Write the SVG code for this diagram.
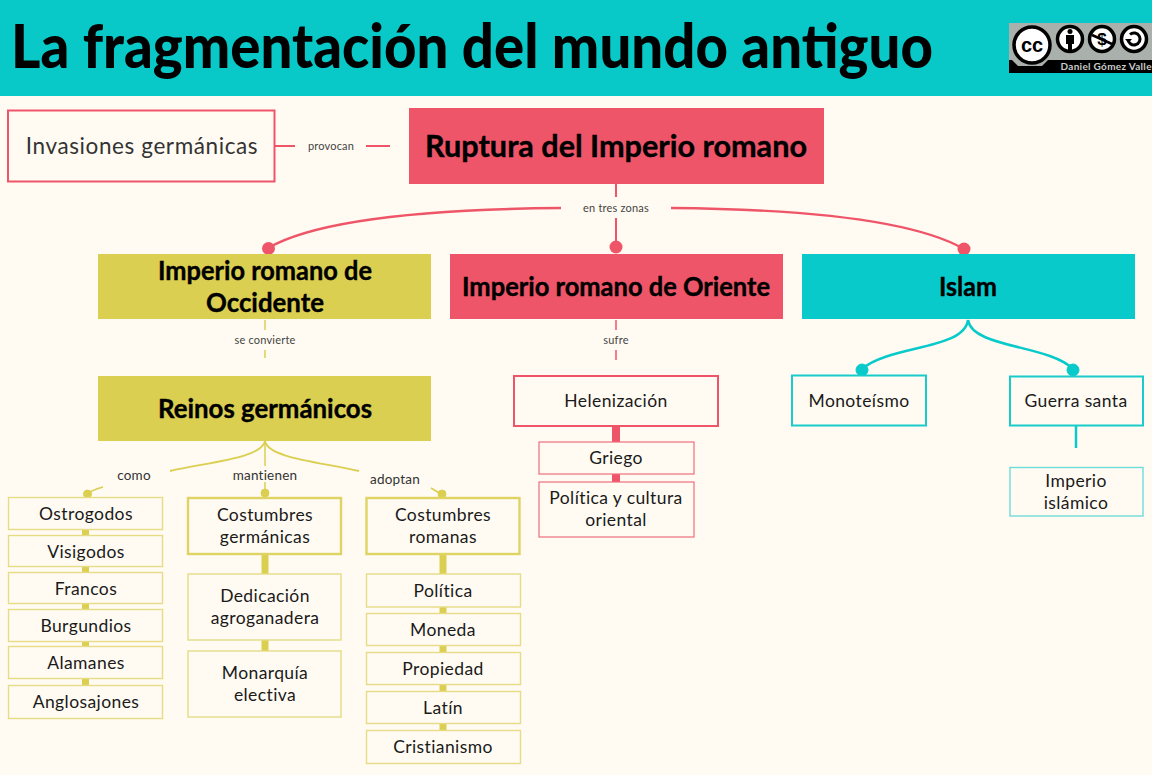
<svg xmlns="http://www.w3.org/2000/svg" width="1152" height="775" viewBox="0 0 1152 775">
<style>
text{font-family:"Lato","Noto Sans",sans-serif;text-anchor:middle;fill:#1a1a1a}
.h{font-weight:700;fill:#000;font-size:27px;stroke:#000;stroke-width:.4px}
.b{font-size:17.5px;letter-spacing:.4px}
.l{font-size:11px;fill:#444;letter-spacing:.2px}
.m{font-size:13.5px;fill:#333;letter-spacing:.2px}
.rf{fill:#ef5568}.yf{fill:#dbcf52}.cf{fill:#08caca}
.r2{fill:#fffbf2;stroke:#ef5568;stroke-width:2}
.y2{fill:#fffbf2;stroke:#dfd463;stroke-width:2.4}
.y1{fill:#fffbf2;stroke:#e6dc85;stroke-width:1.4}
.c2{fill:#fffbf2;stroke:#18cccc;stroke-width:2}
.c1{fill:#fffbf2;stroke:#6fdcdc;stroke-width:1.4}
.r1{fill:#fffbf2;stroke:#ef6d7e;stroke-width:1.2}
#connectors path{fill:none}
</style>
<rect width="1152" height="775" fill="#fffbf2"/>
<rect width="1152" height="96" fill="#08c8c8"/>
<text x="472" y="68" text-anchor="middle" textLength="922" lengthAdjust="spacingAndGlyphs" style="font-family:'Lato',sans-serif;font-weight:900;font-size:60px;fill:#000">La fragmentación del mundo antiguo</text>
<g id="logo">
<rect x="1009" y="23" width="143" height="50" fill="#aab0ab"/>
<rect x="1009" y="60" width="143" height="13" fill="#000"/>
<path d="M1012 60h36l-6 6h-24z" fill="#aab0ab"/>
<g fill="#fff" stroke="#000" stroke-width="3.5">
<circle cx="1032" cy="45" r="18"/><circle cx="1070" cy="39" r="12.5"/><circle cx="1102" cy="39" r="12.5"/><circle cx="1134" cy="39" r="12.5"/>
</g>
<text x="1032" y="52" style="font-family:'Liberation Sans',sans-serif;font-weight:700;font-size:20px;fill:#000">cc</text>
<circle cx="1070" cy="31.500" r="2.500" fill="#000"/>
<path d="M1066 35h8v9h-2v7h-4v-7h-2z" fill="#000"/>
<path d="M1092 35l20 9" stroke="#000" stroke-width="2.500"/>
<text x="1102" y="45" style="font-family:'Liberation Sans',sans-serif;font-weight:700;font-size:17px;fill:#000">$</text>
<path d="M1128 39a6 6 0 1 0 2-4.500" fill="none" stroke="#000" stroke-width="3"/>
<path d="M1125 39h7l-3.500 4z" fill="#000"/>
<text x="1106" y="70" textLength="91" style="font-family:'Lato',sans-serif;font-size:10px;fill:#c8cdc8;font-weight:700">Daniel Gómez Valle</text>
</g>
<g id="connectors">
<g stroke="#ef5568" fill="#ef5568">
<path d="M275 146H295M366 146H390" stroke-width="2"/>
<path d="M389 139L409 146L389 153z" stroke="none"/>
<path d="M616 184V197M616 218V246" stroke-width="2"/>
<path d="M561 208C440 209 320 218 268 248" stroke-width="2.400"/>
<path d="M671 208C790 209 910 218 964 249" stroke-width="2.400"/>
<circle cx="268.500" cy="248.500" r="6.500" stroke="none"/>
<circle cx="616" cy="247" r="6.500" stroke="none"/>
<circle cx="964" cy="249" r="6.500" stroke="none"/>
<path d="M616 320V330M616 350V360" stroke-width="1.500"/>
<path d="M608 356L616 375L624 356z" stroke="none"/>
<path d="M616 426V442" stroke-width="8"/>
<path d="M616 474V482" stroke-width="8"/>
</g>
<g stroke="#dbcf52" fill="#dbcf52">
<path d="M265 320V330M265 350V358" stroke-width="1.500"/>
<path d="M257 353L265 375L273 353z" stroke="none"/>
<path d="M265 441C262 458 210 462 170 471" stroke-width="1.800"/>
<path d="M265 441C268 458 320 462 359 471" stroke-width="1.800"/>
<path d="M265 441V466M265 482V490" stroke-width="1.500"/>
<path d="M103 487C96 489 90 491 87 494M431 488L441 494" stroke-width="1.800"/>
<circle cx="87.500" cy="494" r="4"/><circle cx="265" cy="493" r="4"/><circle cx="442" cy="494" r="4"/>
<path d="M85.500 530V536M85.500 567V572M85.500 604V609M85.500 641V646M85.500 679V685" stroke-width="7"/>
<path d="M265 554V574M265 640V651" stroke-width="7"/>
<path d="M443 554V574M443 607V613M443 646V652M443 685V691M443 724V730" stroke-width="7"/>
</g>
<g stroke="#08caca" fill="#08caca">
<path d="M968 320C964 350 890 345 862 369" stroke-width="2.500"/>
<path d="M968 320C972 348 1050 345 1073 369" stroke-width="2.500"/>
<circle cx="862" cy="370" r="6"/><circle cx="1073" cy="370" r="6"/>
<path d="M1076 426V448" stroke-width="2.500"/>
<path d="M1069 447L1076.500 466L1084 447z" stroke="none"/>
</g>
</g>
<g id="n-invasiones"><rect x="8" y="110.500" width="266.500" height="71" class="r2"/><text x="142" y="154" style="font-size:22.500px;letter-spacing:.6px;fill:#333">Invasiones germánicas</text></g>
<text x="331" y="150" class="l">provocan</text>
<g id="n-ruptura"><rect x="409" y="108" width="415" height="76" class="rf"/><text x="616" y="157" class="h" style="font-size:31px" textLength="382" lengthAdjust="spacingAndGlyphs">Ruptura del Imperio romano</text></g>
<text x="616" y="212" class="l">en tres zonas</text>
<g id="n-occidente"><rect x="98" y="254" width="333" height="65" class="yf"/><text x="265" y="280" class="h" textLength="214" lengthAdjust="spacingAndGlyphs">Imperio romano de</text><text x="265" y="312" class="h" textLength="118" lengthAdjust="spacingAndGlyphs">Occidente</text></g>
<g id="n-oriente"><rect x="450" y="254" width="333" height="65" class="rf"/><text x="616" y="296" class="h" textLength="308" lengthAdjust="spacingAndGlyphs">Imperio romano de Oriente</text></g>
<g id="n-islam"><rect x="802" y="254" width="333" height="65" class="cf"/><text x="968" y="296" class="h" textLength="58" lengthAdjust="spacingAndGlyphs">Islam</text></g>
<text x="265" y="344" class="l">se convierte</text>
<text x="616" y="344" class="l">sufre</text>
<g id="n-reinos"><rect x="98" y="376" width="333" height="65" class="yf"/><text x="265" y="418" class="h" textLength="214" lengthAdjust="spacingAndGlyphs">Reinos germánicos</text></g>
<g id="n-helenizacion"><rect x="514" y="376" width="204" height="50" class="r2"/><text x="616" y="407" class="b">Helenización</text></g>
<g id="n-griego"><rect x="539" y="442" width="155" height="32" class="r1"/><text x="616" y="464" class="b">Griego</text></g>
<g id="n-politica-oriental"><rect x="539" y="482" width="155" height="55" class="r1"/><text x="616" y="504" class="b">Política y cultura</text><text x="616" y="526" class="b">oriental</text></g>
<g id="n-monoteismo"><rect x="792" y="375.500" width="134" height="50" class="c2"/><text x="859" y="407" class="b">Monoteísmo</text></g>
<g id="n-guerra"><rect x="1010" y="376.500" width="133" height="49" class="c2"/><text x="1076" y="407" class="b">Guerra santa</text></g>
<g id="n-imperio-islamico"><rect x="1010" y="467.500" width="133" height="48.500" class="c1"/><text x="1076" y="487" class="b">Imperio</text><text x="1076" y="509" class="b">islámico</text></g>
<text x="134" y="480" class="m">como</text>
<text x="265" y="480" class="m">mantienen</text>
<text x="395" y="484" class="m">adoptan</text>
<g id="n-ostrogodos"><rect x="8.500" y="497.500" width="154" height="32" class="y1"/><text x="86" y="520" class="b">Ostrogodos</text></g>
<g id="n-visigodos"><rect x="8.500" y="535.500" width="154" height="31" class="y1"/><text x="86" y="558" class="b">Visigodos</text></g>
<g id="n-francos"><rect x="8.500" y="572.500" width="154" height="31" class="y1"/><text x="86" y="595" class="b">Francos</text></g>
<g id="n-burgundios"><rect x="8.500" y="609.500" width="154" height="32" class="y1"/><text x="86" y="632" class="b">Burgundios</text></g>
<g id="n-alamanes"><rect x="8.500" y="646.500" width="154" height="32" class="y1"/><text x="86" y="669" class="b">Alamanes</text></g>
<g id="n-anglosajones"><rect x="8.500" y="685.500" width="154" height="33" class="y1"/><text x="86" y="708" class="b">Anglosajones</text></g>
<g id="n-cost-germ"><rect x="188" y="498" width="153" height="56" class="y2"/><text x="265" y="521" class="b">Costumbres</text><text x="265" y="543" class="b">germánicas</text></g>
<g id="n-dedicacion"><rect x="188" y="574" width="153" height="66" class="y1"/><text x="265" y="602" class="b">Dedicación</text><text x="265" y="624" class="b">agroganadera</text></g>
<g id="n-monarquia"><rect x="188" y="651" width="153" height="66" class="y1"/><text x="265" y="679" class="b">Monarquía</text><text x="265" y="701" class="b">electiva</text></g>
<g id="n-cost-rom"><rect x="366.500" y="498" width="153" height="56" class="y2"/><text x="443" y="521" class="b">Costumbres</text><text x="443" y="543" class="b">romanas</text></g>
<g id="n-politica"><rect x="366.500" y="574" width="154" height="33" class="y1"/><text x="443" y="597" class="b">Política</text></g>
<g id="n-moneda"><rect x="366.500" y="613.500" width="154" height="32" class="y1"/><text x="443" y="636" class="b">Moneda</text></g>
<g id="n-propiedad"><rect x="366.500" y="652.500" width="154" height="32" class="y1"/><text x="443" y="675" class="b">Propiedad</text></g>
<g id="n-latin"><rect x="366.500" y="691.500" width="154" height="32" class="y1"/><text x="443" y="714" class="b">Latín</text></g>
<g id="n-cristianismo"><rect x="366.500" y="730.500" width="154" height="33" class="y1"/><text x="443" y="753" class="b">Cristianismo</text></g>
</svg>
